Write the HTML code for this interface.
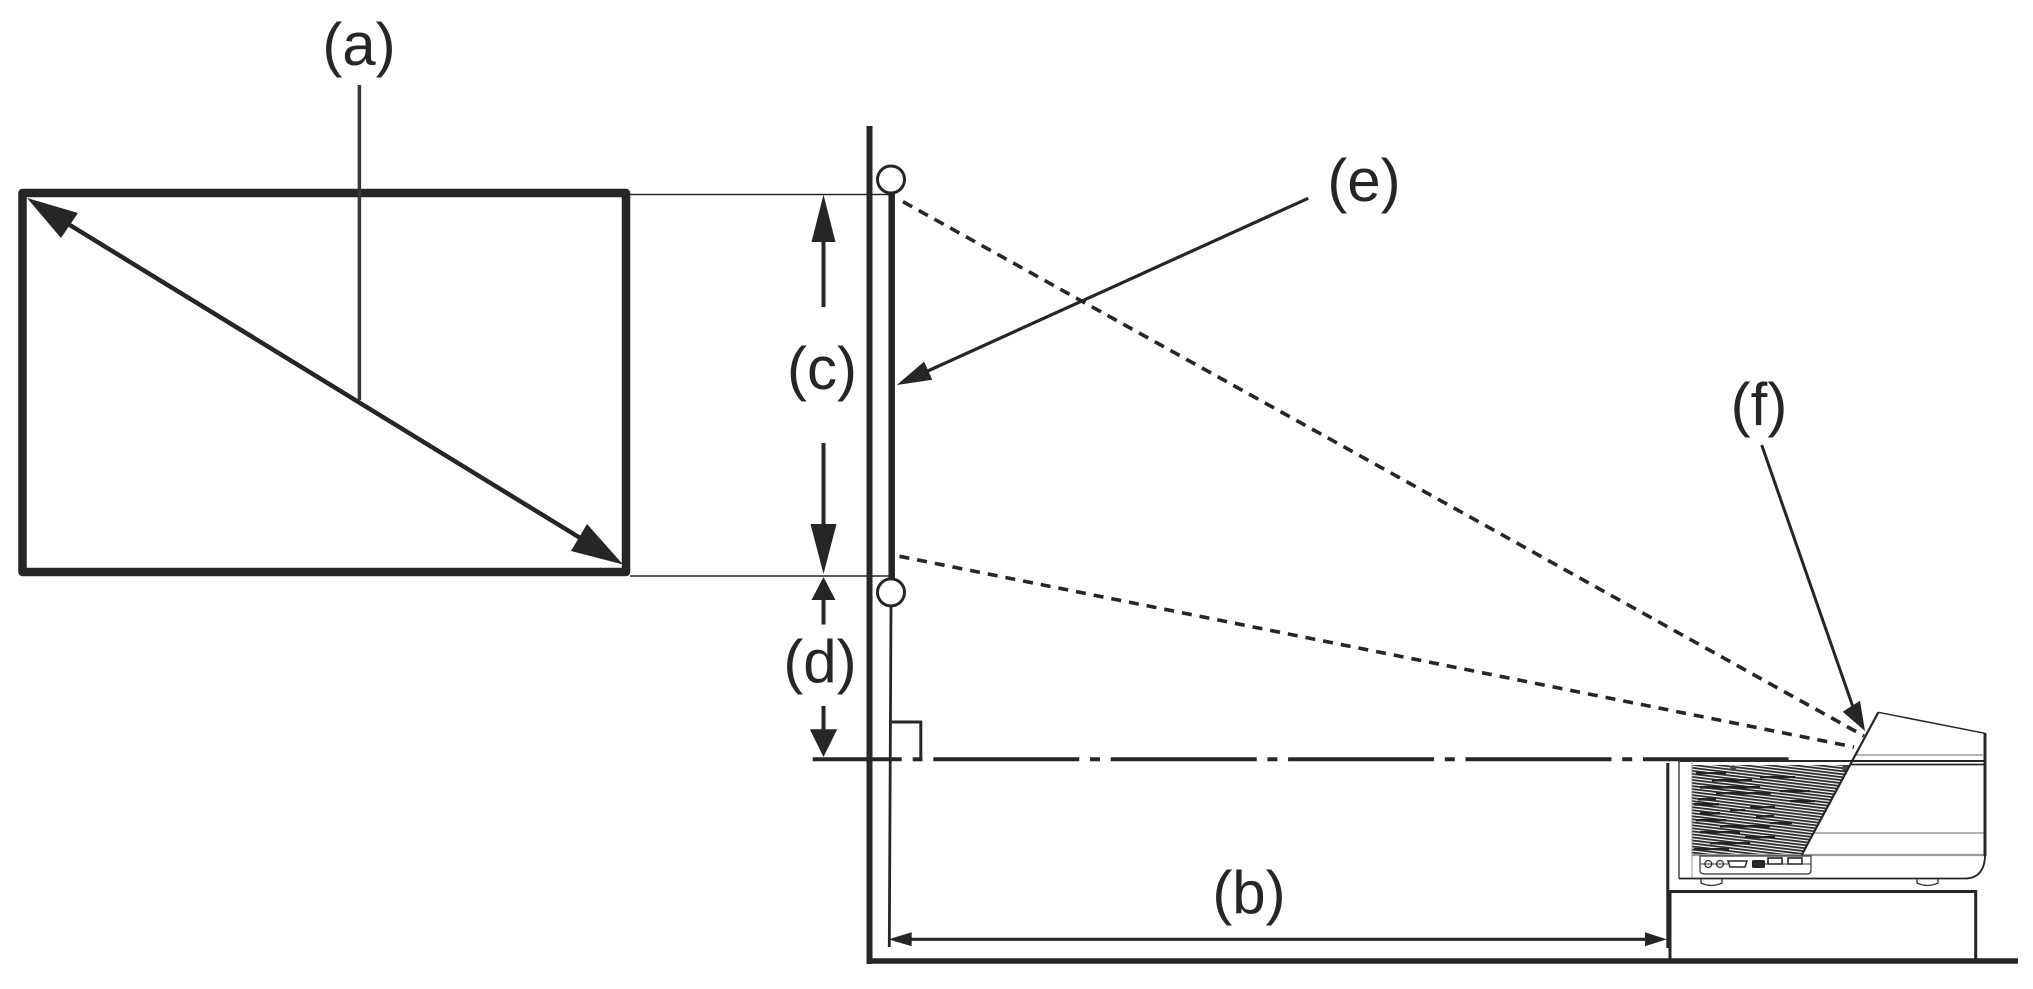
<!DOCTYPE html>
<html><head><meta charset="utf-8"><style>
html,body{margin:0;padding:0;background:#fff;}
svg{display:block;}
text{font-family:"Liberation Sans",Arial,sans-serif;font-size:60px;fill:#262626;text-anchor:middle;}
</style></head><body>
<svg width="2033" height="989" viewBox="0 0 2033 989" xmlns="http://www.w3.org/2000/svg">
<defs>
<pattern id="grill" patternUnits="userSpaceOnUse" width="60" height="3" patternTransform="rotate(7)">
<rect width="60" height="1.8" fill="#2a2a2a"/>
</pattern>
<clipPath id="gc"><polygon points="1692,765 1850,765 1802,854 1692,854"/></clipPath>
</defs>
<rect width="2033" height="989" fill="#fff"/>

<!-- labels -->
<text x="359" y="65">(a)</text>
<text x="1249" y="913">(b)</text>
<text x="822" y="389">(c)</text>
<text x="820" y="682">(d)</text>
<text x="1364" y="201">(e)</text>
<text x="1759" y="425">(f)</text>

<!-- screen rectangle -->
<rect x="22.5" y="193" width="603.5" height="379" fill="none" stroke="#262626" stroke-width="8.5" stroke-linejoin="round"/>
<!-- (a) leader -->
<line x1="359.4" y1="85" x2="359.4" y2="400" stroke="#333838" stroke-width="3.5"/>
<!-- diagonal arrow -->
<line x1="60" y1="219" x2="590" y2="544" stroke="#262626" stroke-width="4.5"/>
<polygon points="27,198 78,213 61,238" fill="#262626"/>
<polygon points="623,564.5 587,524 571,551" fill="#262626"/>

<!-- thin extension lines -->
<line x1="630" y1="194.5" x2="889" y2="194.5" stroke="#262626" stroke-width="1.6"/>
<line x1="630" y1="576" x2="889" y2="576" stroke="#262626" stroke-width="1.6"/>

<!-- wall -->
<line x1="869.5" y1="126" x2="869.5" y2="964" stroke="#262626" stroke-width="6"/>
<!-- floor -->
<line x1="867" y1="961" x2="2018" y2="961" stroke="#262626" stroke-width="5.5"/>

<!-- screen bar -->
<line x1="891.7" y1="193" x2="891.7" y2="580" stroke="#262626" stroke-width="6.5"/>
<line x1="891" y1="607" x2="889.3" y2="947" stroke="#262626" stroke-width="2.8"/>
<circle cx="891" cy="179.5" r="13.5" fill="#fff" stroke="#262626" stroke-width="3"/>
<circle cx="891" cy="592.4" r="13.5" fill="#fff" stroke="#262626" stroke-width="3"/>

<!-- (c) dimension -->
<polygon points="823.5,194.6 811.5,242 835.5,242" fill="#262626"/>
<line x1="823.5" y1="240" x2="823.5" y2="307" stroke="#262626" stroke-width="4"/>
<line x1="823.5" y1="443" x2="823.5" y2="526" stroke="#262626" stroke-width="4"/>
<polygon points="823.5,574 810.5,524 836.5,524" fill="#262626"/>
<!-- (d) dimension -->
<polygon points="823.5,577 811.5,600 835.5,600" fill="#262626"/>
<line x1="823.5" y1="598" x2="823.5" y2="624.5" stroke="#262626" stroke-width="4"/>
<line x1="823.5" y1="706" x2="823.5" y2="731" stroke="#262626" stroke-width="4"/>
<polygon points="823.5,757 809.8,729.3 837.2,729.3" fill="#262626"/>

<!-- ground / dash-dot line -->
<line x1="812.7" y1="759.3" x2="901.7" y2="759.3" stroke="#262626" stroke-width="4"/>
<line x1="912.7" y1="759.3" x2="922.5" y2="759.3" stroke="#262626" stroke-width="4"/>
<line x1="933.3" y1="759.3" x2="1788.6" y2="759.3" stroke="#262626" stroke-width="4" stroke-dasharray="146 10.7 10 10.7"/>
<!-- right angle marker -->
<polyline points="889.3,722 920.8,722 920.8,759" fill="none" stroke="#262626" stroke-width="3"/>

<!-- dashed projection lines -->
<line x1="903" y1="201.7" x2="1864" y2="736" stroke="#262626" stroke-width="3.6" stroke-dasharray="10.5 7.5"/>
<line x1="899.5" y1="556.3" x2="1854" y2="747" stroke="#262626" stroke-width="3.6" stroke-dasharray="10 8"/>

<!-- (e) leader -->
<line x1="1308.2" y1="198.3" x2="920" y2="374.5" stroke="#262626" stroke-width="3.2"/>
<polygon points="896.8,385 932.3,379.8 924.1,361.6" fill="#262626"/>

<!-- (f) leader -->
<line x1="1761.7" y1="445" x2="1853" y2="707" stroke="#262626" stroke-width="3"/>
<polygon points="1865,731 1842.7,711.7 1860,700.7" fill="#262626"/>

<!-- (b) dimension -->
<line x1="905" y1="939.3" x2="1650" y2="939.3" stroke="#262626" stroke-width="3.2"/>
<polygon points="888.3,939.3 911.7,932.3 911.7,946.3" fill="#262626"/>
<polygon points="1666.7,939.3 1645,932.3 1645,946.3" fill="#262626"/>
<line x1="1667.8" y1="763" x2="1667.8" y2="948" stroke="#262626" stroke-width="3"/>

<!-- table -->
<polyline points="1670,961 1670,891.5 1975.7,891.5 1975.7,961" fill="none" stroke="#262626" stroke-width="3"/>

<!-- projector -->
<!-- grille -->
<polygon points="1692,765 1850,765 1802,854 1692,854" fill="url(#grill)"/>
<g clip-path="url(#gc)" fill="#222">
<rect x="1712" y="779" width="40" height="2.6"/>
<rect x="1700" y="786" width="60" height="2.6"/>
<rect x="1716" y="792" width="55" height="2.4"/>
<rect x="1698" y="798" width="18" height="2.6"/>
<rect x="1694" y="803" width="25" height="2.6"/>
<rect x="1750" y="806" width="25" height="2.4"/>
<rect x="1700" y="812" width="20" height="2.6"/>
<rect x="1756" y="815" width="18" height="2.6"/>
<rect x="1696" y="819" width="30" height="2.4"/>
<rect x="1720" y="825" width="50" height="2.6"/>
<rect x="1700" y="831" width="40" height="2.4"/>
<rect x="1745" y="836" width="30" height="2.4"/>
<rect x="1710" y="842" width="40" height="2.4"/>
<rect x="1780" y="790" width="30" height="2.2"/>
<rect x="1790" y="800" width="25" height="2.2"/>
<rect x="1696" y="772" width="30" height="2.2"/>
<rect x="1760" y="776" width="35" height="2.2"/>
<rect x="1730" y="809" width="15" height="2.2"/>
<rect x="1694" y="848" width="35" height="2.2"/>
<rect x="1770" y="822" width="22" height="2.2"/>
</g>
<circle cx="1733.3" cy="768.3" r="3" fill="#444"/>
<circle cx="1845" cy="768.3" r="3" fill="#444"/>
<!-- body outline -->
<line x1="1679" y1="761" x2="1985" y2="761" stroke="#262626" stroke-width="2"/>
<line x1="1850" y1="764.5" x2="1985" y2="764.5" stroke="#262626" stroke-width="1.8"/>
<line x1="1855" y1="755" x2="1983" y2="755" stroke="#888" stroke-width="1.2"/>
<line x1="1813" y1="833" x2="1985" y2="833" stroke="#888" stroke-width="1.2"/>
<line x1="1692" y1="855" x2="1985" y2="855" stroke="#999" stroke-width="2.2"/>
<line x1="1679" y1="761" x2="1679" y2="878.5" stroke="#444" stroke-width="1.5"/>
<line x1="1692" y1="761" x2="1692" y2="878" stroke="#999" stroke-width="1"/>
<line x1="1679" y1="878.5" x2="1965" y2="878.5" stroke="#262626" stroke-width="1.8"/>
<path d="M1985,855 C1985,870 1978,878.5 1965,878.5" fill="none" stroke="#262626" stroke-width="1.8"/>
<line x1="1985" y1="733" x2="1985" y2="856" stroke="#262626" stroke-width="3"/>
<line x1="1878.3" y1="712.3" x2="1985" y2="733.3" stroke="#262626" stroke-width="1.5"/>
<line x1="1878.3" y1="712.3" x2="1801.7" y2="855" stroke="#262626" stroke-width="2.2"/>
<!-- ports panel -->
<path d="M1700,856 L1811,856 L1811,870 Q1811,874 1807,874 L1704,874 Q1700,874 1700,870 Z" fill="#fff" stroke="#333" stroke-width="1.2"/>
<circle cx="1708.3" cy="864" r="3.5" fill="none" stroke="#333" stroke-width="1.3"/>
<circle cx="1720" cy="864" r="3.5" fill="none" stroke="#333" stroke-width="1.3"/>
<line x1="1700" y1="864" x2="1728" y2="864" stroke="#333" stroke-width="1"/>
<path d="M1728,861 L1747,861 L1745,867 L1730,867 Z" fill="#fff" stroke="#262626" stroke-width="1.5"/>
<rect x="1752" y="860" width="13" height="8" rx="1.5" fill="#262626"/>
<rect x="1768" y="858" width="14" height="6" fill="#fff" stroke="#262626" stroke-width="1.6"/>
<rect x="1788" y="858" width="14" height="6" fill="#fff" stroke="#262626" stroke-width="1.6"/>
<line x1="1765" y1="864" x2="1811" y2="864" stroke="#333" stroke-width="1"/>
<!-- feet -->
<path d="M1701,879 L1701,883 Q1711.5,888 1722,883 L1722,879" fill="none" stroke="#333" stroke-width="1.3"/>
<path d="M1917,879 L1917,883 Q1927.5,888 1938,883 L1938,879" fill="none" stroke="#333" stroke-width="1.3"/>
</svg>
</body></html>
